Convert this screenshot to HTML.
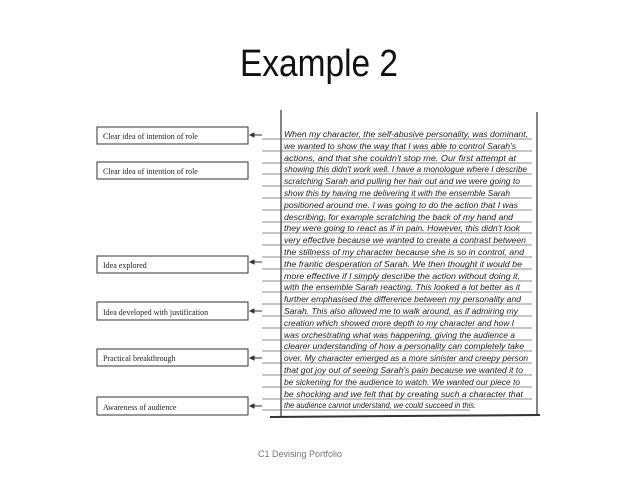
<!DOCTYPE html>
<html><head><style>
body{margin:0;background:#fff;}
svg{display:block}
</style></head><body>
<svg width="638" height="478" xmlns="http://www.w3.org/2000/svg" font-family="Liberation Sans, sans-serif">
<text x="240" y="76" font-size="38" fill="#111" textLength="158" lengthAdjust="spacingAndGlyphs">Example 2</text>
<g stroke="#333" fill="none" stroke-width="1">
<rect x="97" y="127" width="151" height="17"/>
<rect x="97" y="162" width="151" height="17"/>
<rect x="97" y="256" width="151" height="17"/>
<rect x="97" y="302" width="151" height="18"/>
<rect x="97" y="349" width="151" height="17"/>
<rect x="97" y="397" width="151" height="18"/>
<line x1="281" y1="110" x2="281" y2="416" stroke-width="1.2"/>
<line x1="537" y1="112" x2="537" y2="416" stroke-width="1.2"/>
<line x1="270" y1="417" x2="540" y2="415" stroke-width="2"/>
</g>
<g font-family="Liberation Serif, serif" font-size="8" fill="#222">
<text x="103" y="139">Clear idea of intention of role</text>
<text x="103" y="174">Clear idea of intention of role</text>
<text x="103" y="268">Idea explored</text>
<text x="103" y="315">Idea developed with justification</text>
<text x="103" y="361">Practical breakthrough</text>
<text x="103" y="410">Awareness of audience</text>
</g>
<g stroke="#333" stroke-width="1" fill="#333">
<line x1="252" y1="135" x2="262" y2="135"/><path d="M250 135 l4 -2 v4z"/>
<line x1="252" y1="262" x2="262" y2="262"/><path d="M250 262 l4 -2 v4z"/>
<line x1="252" y1="311" x2="262" y2="311"/><path d="M250 311 l4 -2 v4z"/>
<line x1="252" y1="358" x2="262" y2="358"/><path d="M250 358 l4 -2 v4z"/>
<line x1="252" y1="406" x2="262" y2="406"/><path d="M250 406 l4 -2 v4z"/>
</g>
<g font-size="8" fill="#222" font-style="italic">
<text x="284" y="137" textLength="244" lengthAdjust="spacingAndGlyphs">When my character, the self-abusive personality, was dominant,</text>
<text x="284" y="149" textLength="232" lengthAdjust="spacingAndGlyphs">we wanted to show the way that I was able to control Sarah's</text>
<text x="284" y="161" textLength="232" lengthAdjust="spacingAndGlyphs">actions, and that she couldn't stop me. Our first attempt at</text>
<text x="284" y="172" textLength="243" lengthAdjust="spacingAndGlyphs">showing this didn't work well. I have a monologue where I describe</text>
<text x="284" y="184" textLength="236" lengthAdjust="spacingAndGlyphs">scratching Sarah and pulling her hair out and we were going to</text>
<text x="284" y="196" textLength="226" lengthAdjust="spacingAndGlyphs">show this by having me delivering it with the ensemble Sarah</text>
<text x="284" y="208" textLength="234" lengthAdjust="spacingAndGlyphs">positioned around me. I was going to do the action that I was</text>
<text x="284" y="220" textLength="229" lengthAdjust="spacingAndGlyphs">describing, for example scratching the back of my hand and</text>
<text x="284" y="231" textLength="236" lengthAdjust="spacingAndGlyphs">they were going to react as if in pain. However, this didn't look</text>
<text x="284" y="243" textLength="242" lengthAdjust="spacingAndGlyphs">very effective because we wanted to create a contrast between</text>
<text x="284" y="255" textLength="240" lengthAdjust="spacingAndGlyphs">the stillness of my character because she is so in control, and</text>
<text x="284" y="267" textLength="238" lengthAdjust="spacingAndGlyphs">the frantic desperation of Sarah. We then thought it would be</text>
<text x="284" y="279" textLength="236" lengthAdjust="spacingAndGlyphs">more effective if I simply describe the action without doing it,</text>
<text x="284" y="290" textLength="236" lengthAdjust="spacingAndGlyphs">with the ensemble Sarah reacting. This looked a lot better as it</text>
<text x="284" y="302" textLength="237" lengthAdjust="spacingAndGlyphs">further emphasised the difference between my personality and</text>
<text x="284" y="314" textLength="234" lengthAdjust="spacingAndGlyphs">Sarah. This also allowed me to walk around, as if admiring my</text>
<text x="284" y="326" textLength="230" lengthAdjust="spacingAndGlyphs">creation which showed more depth to my character and how I</text>
<text x="284" y="338" textLength="231" lengthAdjust="spacingAndGlyphs">was orchestrating what was happening, giving the audience a</text>
<text x="284" y="349" textLength="240" lengthAdjust="spacingAndGlyphs">clearer understanding of how a personality can completely take</text>
<text x="284" y="361" textLength="244" lengthAdjust="spacingAndGlyphs">over. My character emerged as a more sinister and creepy person</text>
<text x="284" y="373" textLength="239" lengthAdjust="spacingAndGlyphs">that got joy out of seeing Sarah's pain because we wanted it to</text>
<text x="284" y="385" textLength="236" lengthAdjust="spacingAndGlyphs">be sickening for the audience to watch. We wanted our piece to</text>
<text x="284" y="397" textLength="239" lengthAdjust="spacingAndGlyphs">be shocking and we felt that by creating such a character that</text>
<text x="284" y="408" textLength="192" lengthAdjust="spacingAndGlyphs">the audience cannot understand, we could succeed in this.</text>
</g>
<g stroke="#666" stroke-width="0.7">
<line x1="262" y1="139" x2="532" y2="139"/><line x1="262" y1="151" x2="532" y2="151"/>
<line x1="262" y1="163" x2="532" y2="163"/><line x1="262" y1="174" x2="532" y2="174"/>
<line x1="262" y1="186" x2="532" y2="186"/><line x1="262" y1="198" x2="532" y2="198"/>
<line x1="262" y1="210" x2="532" y2="210"/><line x1="262" y1="222" x2="532" y2="222"/>
<line x1="262" y1="233" x2="532" y2="233"/><line x1="262" y1="245" x2="532" y2="245"/>
<line x1="262" y1="257" x2="532" y2="257"/><line x1="262" y1="269" x2="532" y2="269"/>
<line x1="262" y1="281" x2="532" y2="281"/><line x1="262" y1="292" x2="532" y2="292"/>
<line x1="262" y1="304" x2="532" y2="304"/><line x1="262" y1="316" x2="532" y2="316"/>
<line x1="262" y1="328" x2="532" y2="328"/><line x1="262" y1="340" x2="532" y2="340"/>
<line x1="262" y1="351" x2="532" y2="351"/><line x1="262" y1="363" x2="532" y2="363"/>
<line x1="262" y1="375" x2="532" y2="375"/><line x1="262" y1="387" x2="532" y2="387"/>
<line x1="262" y1="399" x2="532" y2="399"/><line x1="262" y1="410" x2="470" y2="410"/>
</g>
<text x="258" y="457" font-size="9" fill="#777">C1 Devising Portfolio</text>
</svg>
</body></html>
